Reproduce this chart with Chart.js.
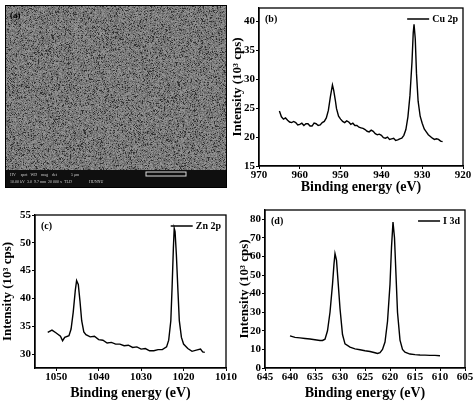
<!DOCTYPE html>
<html><head><meta charset="utf-8">
<script src="https://cdn.jsdelivr.net/npm/chart.js@4"></script>
<style>
body{margin:0;background:#fff;width:474px;height:406px;position:relative;overflow:hidden}
canvas{position:absolute}
</style></head><body>
<canvas id="sem" width="220" height="181" style="left:5px;top:5px"></canvas>
<div id="wb" style="position:absolute;left:230px;top:0;width:244px;height:200px"><canvas id="b"></canvas></div>
<div style="position:absolute;left:0;top:200px;width:237px;height:206px"><canvas id="c"></canvas></div>
<div style="position:absolute;left:237px;top:200px;width:237px;height:206px"><canvas id="d"></canvas></div>
<script>
// Cu 2p
const cuX = [965,964.5,964,963.5,963,962.5,962,961.5,961,960.5,960,959.5,959,958.5,958,957.5,957,956.5,956,955.5,955,954.5,954,953.5,953,952.5,952,951.7,951.3,951,950.5,950,949.5,949,948.5,948,947.5,947,946.5,946,945.5,945,944.5,944,943.5,943,942.5,942,941.5,941,940.5,940,939.5,939,938.5,938,937.5,937,936.5,936,935.5,935,934.5,934,933.5,933,932.5,932.2,932,931.7,931.4,931,930.5,930,929.5,929,928.5,928,927.5,927,926.5,926,925.5,925];
const cuY = [24.5,23.5,23.1,23.3,22.9,22.6,22.5,22.7,22.5,22.1,22.2,22.4,22.0,22.3,22.3,21.9,21.9,22.4,22.3,22.0,22.1,22.5,22.7,23.3,24.6,27.0,29.0,28.1,26.4,24.9,23.6,23.1,22.7,22.5,22.8,22.6,22.2,22.4,22.0,22.0,21.7,21.6,21.5,21.3,21.0,20.9,21.2,21.0,20.6,20.4,20.5,20.3,19.9,19.8,20.0,19.6,19.7,19.8,19.4,19.5,19.7,19.8,20.3,21.3,23.5,27.2,33.0,38.0,39.5,37.0,31.0,26.2,23.6,22.4,21.4,20.9,20.4,20.1,19.8,19.6,19.7,19.6,19.3,19.2];
// Zn 2p
const znX = [1052,1051,1050,1049,1048.5,1048,1047,1046.5,1046,1045.5,1045.2,1044.8,1044.4,1044,1043.5,1043,1042,1041,1040,1039,1038,1037,1036,1035,1034,1033,1032,1031,1030,1029,1028,1027,1026,1025,1024,1023.5,1023,1022.7,1022.4,1022.2,1022,1021.7,1021.3,1021,1020.5,1020,1019,1018,1017,1016,1015.5,1015];
const znY = [33.9,34.3,33.8,33.2,32.4,33.0,33.3,34.5,37.5,41.5,43.2,42.5,39.5,36.0,34.0,33.5,33.1,33.2,32.6,32.5,32.0,32.1,31.8,31.8,31.5,31.6,31.2,31.3,30.9,31.0,30.6,30.6,30.8,30.8,31.3,32.5,36.0,42.0,49.0,52.6,52.0,48.0,41.0,36.0,33.0,31.8,31.0,30.5,30.7,30.9,30.4,30.3];
// I 3d
const iX = [640,639,638,637,636,635,634,633.5,633,632.5,632,631.5,631.2,631,630.7,630.4,630,629.5,629,628,627,626,625,624,623,622.5,622,621.5,621,620.5,620,619.7,619.4,619.1,618.8,618.5,618,617.5,617,616,615,614,613,612,611,610];
const iY = [17.3,16.5,16.2,15.9,15.6,15.2,14.8,14.8,15.5,20,30,45,56,61.5,58,47,32,18,13,11.2,10.3,9.8,9.3,8.9,8.2,7.8,8.3,10,14,25,45,65,78.5,70,50,30,15,10,8.5,7.5,7.2,7.0,6.9,6.8,6.8,6.6];

const xTicksB = [970,960,950,940,930,920], yTicksB = [15,20,25,30,35,40];
const xTicksC = [1050,1040,1030,1020,1010], yTicksC = [30,35,40,45,50,55];
const xTicksD = [645,640,635,630,625,620,615,610,605], yTicksD = [0,10,20,30,40,50,60,70,80];

const serif = 'Liberation Serif';

// SEM micrograph placeholder texture (deterministic)
(function(){
  const cv = document.getElementById('sem'), g = cv.getContext('2d');
  const img = g.createImageData(220, 181);
  let s = 12345;
  for (let i = 0; i < 220*181; i++) {
    s = (s * 1103515245 + 12345) & 0x7fffffff;
    let v = 95 + (s % 60);
    if ((s >> 8) % 9 === 0) v = 50;
    const y = Math.floor(i / 220);
    if (y >= 164) v = 15;
    img.data[i*4] = img.data[i*4+1] = img.data[i*4+2] = v; img.data[i*4+3] = 255;
  }
  g.putImageData(img, 0, 0);
  g.fillStyle = '#ccc'; g.font = '4px ' + serif;
  g.fillText('HV     spot   WD    mag    det              5 μm', 4, 170);
  g.fillText('10.00 kV  3.0  9.7 mm  20 000 x  TLD                 HUNNU', 4, 177);
  g.strokeStyle = '#ddd'; g.strokeRect(140, 166, 40, 4);
  g.fillStyle = '#000'; g.font = 'bold 9px ' + serif; g.fillText('(a)', 4, 12);
  cv.style.border = '1px solid #000';
})();

const boxPlugin = {
  id: 'box',
  afterDraw(ch, a, o) {
    const { ctx, chartArea: ca } = ch;
    ctx.save();
    ctx.strokeStyle = '#000'; ctx.lineWidth = 1.3;
    ctx.strokeRect(ca.left, ca.top, ca.right - ca.left, ca.bottom - ca.top);
    ctx.fillStyle = '#000';
    ctx.font = 'bold 10px ' + serif;
    ctx.textBaseline = 'middle';
    ctx.fillText(o.label, ca.left + 6, ca.top + 11);
    ctx.textAlign = 'right';
    ctx.fillText(o.legend, ca.right - 5, ca.top + 11);
    const w = ctx.measureText(o.legend).width;
    ctx.lineWidth = 1.5;
    ctx.beginPath();
    ctx.moveTo(ca.right - 8 - w - 22, ca.top + 11);
    ctx.lineTo(ca.right - 8 - w, ca.top + 11);
    ctx.stroke();
    ctx.restore();
  }
};

function makeChart(id, xs, ys, area, xr, yr, xt, yt, label, legend) {
  const pts = xs.map((x, i) => ({ x: x, y: ys[i] }));
  const W = area.w, H = area.h;
  const tickFont = { family: serif, weight: 'bold', size: 11 };
  return new Chart(document.getElementById(id), {
    type: 'scatter',
    data: { datasets: [{ data: pts, showLine: true, borderColor: '#000', borderWidth: 1.4, pointRadius: 0, tension: 0 }] },
    options: {
      responsive: true, maintainAspectRatio: false, animation: false,
      layout: { padding: { left: 0, top: area.top, right: W - area.right, bottom: 0 } },
      plugins: { legend: { display: false }, tooltip: { enabled: false }, box: { label: label, legend: legend } },
      scales: {
        x: {
          type: 'linear', reverse: true, min: xr[0], max: xr[1],
          afterBuildTicks: s => { s.ticks = xt.map(v => ({ value: v })); },
          afterFit: s => { s.height = H - area.bottom; },
          ticks: { color: '#000', font: tickFont, padding: 0, maxRotation: 0, autoSkip: false, callback: v => String(v) },
          grid: { drawOnChartArea: false, color: '#000', tickLength: 3 },
          border: { color: '#000', width: 1.3 },
          title: { display: true, text: 'Binding energy (eV)', color: '#000', font: { family: serif, weight: 'bold', size: 14 }, padding: { top: 4 } }
        },
        y: {
          min: yr[0], max: yr[1],
          afterBuildTicks: s => { s.ticks = yt.map(v => ({ value: v })); },
          afterFit: s => { s.width = area.left; },
          ticks: { color: '#000', font: tickFont, padding: 1, autoSkip: false, callback: v => String(v) },
          grid: { drawOnChartArea: false, color: '#000', tickLength: 3 },
          border: { color: '#000', width: 1.3 },
          title: { display: true, text: 'Intensity (10³ cps)', color: '#000', font: { family: serif, weight: 'bold', size: 13 }, padding: 0 }
        }
      }
    },
    plugins: [boxPlugin]
  });
}

makeChart('b', cuX, cuY, { w: 244, h: 200, left: 29, top: 8, right: 233, bottom: 166 }, [920, 970], [15, 42.3], xTicksB, yTicksB, '(b)', 'Cu 2p');
makeChart('c', znX, znY, { w: 237, h: 206, left: 35, top: 15, right: 228, bottom: 168 }, [1010, 1055], [27.5, 55], xTicksC, yTicksC, '(c)', 'Zn 2p');
makeChart('d', iX, iY, { w: 237, h: 206, left: 28, top: 10, right: 228, bottom: 168 }, [605, 645], [0, 85], xTicksD, yTicksD, '(d)', 'I 3d');
</script>
</body></html>
